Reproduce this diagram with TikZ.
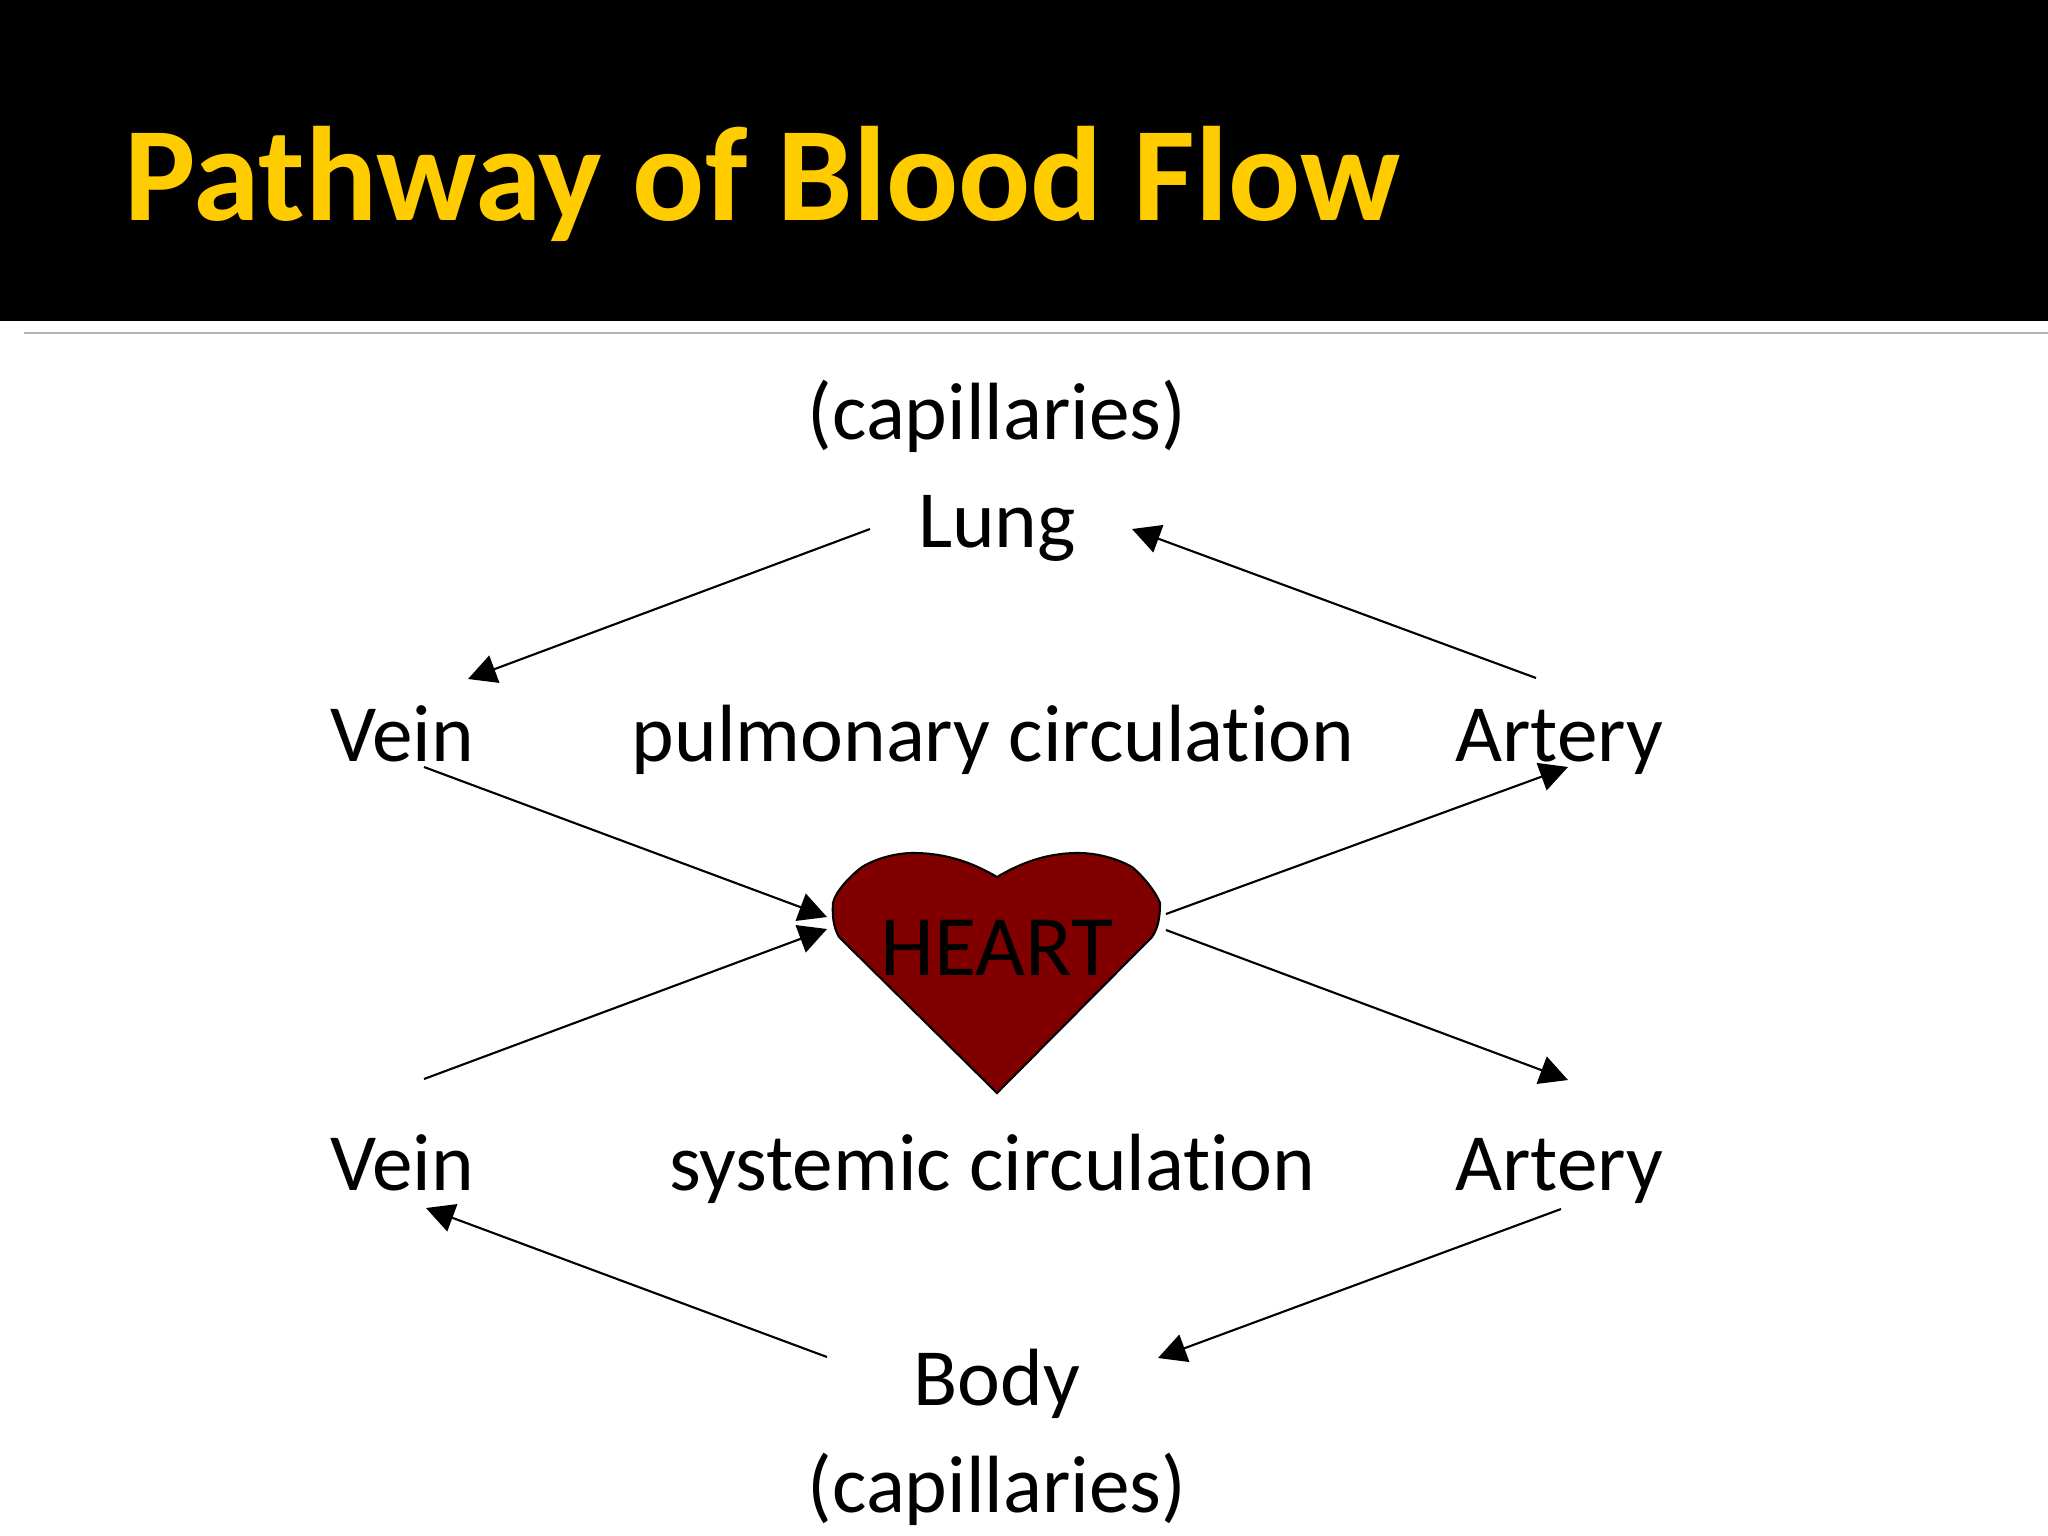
\documentclass[tikz,border=0pt]{standalone}
\usepackage{fontspec}
\setmainfont{Carlito}[Ligatures=NoCommon]
\usepackage{xcolor}
\usetikzlibrary{arrows.meta}
\definecolor{titleyellow}{HTML}{FFCC00}
\definecolor{heartred}{HTML}{800000}
\definecolor{rulegray}{HTML}{B2B2B2}
\tikzset{
	label text/.style={anchor=base,inner sep=0pt,font=\fontsize{23.1}{28}\selectfont},
	flow/.style={-{Triangle[length=8pt,width=8.2pt]},line width=0.6pt}
}

\begin{document}
\begin{tikzpicture}[x=0.01cm,y=-0.01cm]
		\useasboundingbox (0,0) rectangle (2048,1536);
		\fill[black] (0,0) rectangle (2048,320.5);
		\fill[rulegray] (24,331.5) rectangle (2048,334);
		\node[anchor=base west,inner sep=0pt,text=titleyellow,font=\fontsize{38.2}{46}\selectfont\bfseries] (title) at (124,220) {Pathway of Blood Flow};
		%
		\draw[fill=heartred,line width=0.6pt] (997,877) .. controls (975,864) and (948,853) .. (913,853)
			.. controls (895,853) and (875,859) .. (862,867)
			.. controls (850,876) and (835,892) .. (833,903)
			.. controls (832,918) and (834,928) .. (839,937)
			-- (997,1093) -- (1152,937)
			.. controls (1158,928) and (1160,918) .. (1160,903)
			.. controls (1156,892) and (1143,876) .. (1132,867)
			.. controls (1118,859) and (1098,853) .. (1078,853)
			.. controls (1045,853) and (1019,864) .. (997,877) -- cycle;
		%
		\node[label text] (capTop) at (997,439) {(capillaries)};
		\node[label text] (lung) at (997,547) {Lung};
		\node[label text] (veinTop) at (402,761) {Vein};
		\node[label text] (pulmonary) at (993,761) {pulmonary circulation};
		\node[label text] (arteryTop) at (1559,761) {Artery};
		\node[label text,font=\fontsize{24.5}{28}\selectfont] (heart) at (997,975) {HEART};
		\node[label text] (veinBot) at (402,1190) {Vein};
		\node[label text] (systemic) at (992,1190) {systemic circulation};
		\node[label text] (arteryBot) at (1559,1190) {Artery};
		\node[label text] (body) at (997,1405) {Body};
		\node[label text] (capBot) at (997,1512) {(capillaries)};
		%
		\coordinate (lungOut) at (870,529);
		\coordinate (lungIn) at (1132,529);
		\coordinate (veinTopIn) at (468,679);
		\coordinate (veinTopOut) at (424,767);
		\coordinate (arteryTopOut) at (1536,678);
		\coordinate (arteryTopIn) at (1568,767);
		\coordinate (heartInA) at (827,917);
		\coordinate (heartInB) at (827,929);
		\coordinate (heartOutA) at (1166,914);
		\coordinate (heartOutB) at (1166,930);
		\coordinate (veinBotOut) at (424,1079);
		\coordinate (veinBotIn) at (426,1208);
		\coordinate (arteryBotIn) at (1568,1080);
		\coordinate (arteryBotOut) at (1561,1209);
		\coordinate (bodyIn) at (1158,1358);
		\coordinate (bodyOut) at (827,1357);
		%
		\path[flow]
			(lungOut) edge (veinTopIn)
			(arteryTopOut) edge (lungIn)
			(veinTopOut) edge (heartInA)
			(veinBotOut) edge (heartInB)
			(heartOutA) edge (arteryTopIn)
			(heartOutB) edge (arteryBotIn)
			(arteryBotOut) edge (bodyIn)
			(bodyOut) edge (veinBotIn);
	\end{tikzpicture}
\end{document}
